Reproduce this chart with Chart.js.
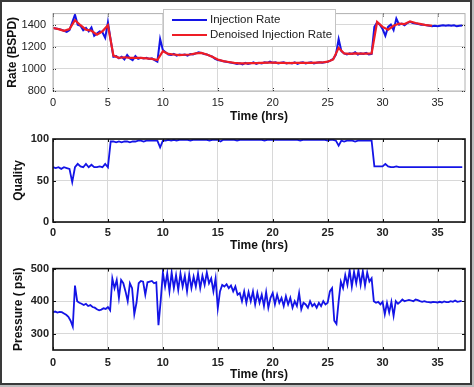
<!DOCTYPE html>
<html>
<head>
<meta charset="utf-8">
<script src="https://cdn.jsdelivr.net/npm/chart.js"></script>
<style>
    html, body { margin: 0; padding: 0; }
    body { width: 474px; height: 387px; background: #bdbdbd; position: relative; overflow: hidden; }
    .frame { position: absolute; left: 0; top: 0; width: 468px; height: 381px; background: #fff; border: 2px solid #3a3a3a; }
    canvas { position: absolute; left: 0; }
</style>
</head>
<body>
<div class="frame"></div>
<canvas id="rate-chart" width="474" height="128" style="top:0"></canvas>
<canvas id="quality-chart" width="474" height="128" style="top:128px"></canvas>
<canvas id="pressure-chart" width="474" height="129" style="top:258px"></canvas>
<script>
    // tick labels
    var timeTicks = [0, 5, 10, 15, 20, 25, 30, 35];
    var rateTicks = [800, 1000, 1200, 1400];
    var qualityTicks = [0, 50, 100];
    var pressureTicks = [300, 400, 500];

    // injection rate (BSPD), one sample every 0.25 h from t = 0
    var rateStep = 0.25;
    var injectionRate = [
        1370, 1365, 1360, 1355,  1345, 1335, 1350, 1420,  1490, 1400, 1390, 1350,
        1370, 1340, 1375, 1300,  1320, 1340, 1330, 1280,  1420, 1260, 1110, 1115,
        1095, 1110, 1085, 1125,  1095, 1080, 1115, 1090,  1100, 1095, 1100, 1090,
        1095, 1080, 1065, 1270,  1170, 1150, 1130, 1125,  1135, 1120, 1130, 1125,
        1130, 1120, 1135, 1130,  1140, 1150, 1145, 1135,  1130, 1120, 1110, 1090,
        1080, 1075, 1070, 1065,  1060, 1055, 1050, 1045,  1050, 1040, 1055, 1045,
        1050, 1060, 1045, 1055,  1050, 1060, 1055, 1065,  1055, 1060, 1050, 1055,
        1060, 1050, 1055, 1050,  1060, 1045, 1055, 1060,  1050, 1055, 1060, 1050,
        1055, 1060, 1055, 1060,  1065, 1075, 1090, 1130,  1270, 1160, 1140, 1130,
        1140, 1135, 1150, 1130,  1140, 1135, 1145, 1130,  1135, 1380, 1420, 1400,
        1360, 1300, 1380, 1400,  1350, 1455, 1400, 1410,  1395, 1415, 1425, 1415,
        1410, 1405, 1400, 1400,  1395, 1390, 1385, 1390,  1385, 1390, 1395, 1390,
        1395, 1390, 1395, 1385,  1390, 1392
    ];

    // denoised injection rate (BSPD), one sample every 0.5 h from t = 0
    var denoisedStep = 0.5;
    var denoisedRate = [
        1370, 1360,  1345, 1360,  1440, 1395,  1355, 1345,  1310, 1340,
        1395, 1120,  1100, 1105,  1100, 1100,  1100, 1095,  1090, 1080,
        1160, 1135,  1130, 1125,  1128, 1130,  1140, 1145,  1130, 1110,
        1085, 1070,  1062, 1055,  1050, 1050,  1052, 1052,  1055, 1057,
        1057, 1055,  1055, 1053,  1055, 1055,  1055, 1055,  1057, 1058,
        1065, 1085,  1190, 1140,  1135, 1140,  1138, 1138,  1140, 1425,
        1380, 1355,  1390, 1410,  1405, 1430,  1415, 1405,  1395, 1390
    ];

    // steam quality, one sample every 0.25 h from t = 0
    var qualityStep = 0.25;
    var quality = [
        66, 65, 66, 64,  66, 65, 64, 48,  66, 70, 67, 66,  70, 66, 69, 66,
        66, 67, 66, 70,  66, 97, 97, 96,  97, 96, 97, 97,  96, 97, 97, 98,
        98, 97, 98, 98,  98, 98, 98, 90,  98, 98, 99, 98,  99, 98, 99, 99,
        99, 99, 98, 99,  99, 99, 99, 99,  99, 98, 99, 99,  99, 97, 99, 99,
        99, 99, 99, 98,  99, 99, 99, 99,  99, 99, 99, 99,  99, 98, 99, 99,
        99, 99, 99, 99,  99, 99, 99, 99,  99, 99, 98, 99,  99, 99, 99, 99,
        99, 99, 99, 99,  98, 99, 99, 98,  92, 98, 97, 98,  98, 98, 97, 98,
        98, 98, 98, 98,  98, 67, 67, 67,  67, 70, 67, 66,  66, 67, 66, 66,
        66, 66, 66, 66,  66, 66, 66, 66,  66, 66, 66, 66,  66, 66, 66, 66,
        66, 66, 66, 66,  66, 66
    ];

    // pressure (psi), one sample every 0.2 h from t = 0
    var pressureStep = 0.2;
    var pressure = [
        366, 368, 365, 367, 366,  362, 358, 352, 340, 322,  448, 400, 395, 392, 388,
        392, 385, 388, 382, 380,  375, 372, 374, 378, 376,  382, 372, 470, 440, 465,
        410, 465, 455, 430, 400,  455, 440, 360, 395, 455,  462, 460, 420, 458, 460,
        462, 455, 458, 326, 400,  488, 445, 485, 430, 488,  440, 480, 435, 485, 445,
        478, 430, 482, 440, 475,  445, 485, 440, 478, 450,  488, 455, 470, 430, 470,
        378, 430, 450, 445, 452,  440, 448, 430, 445, 420,  425, 400, 430, 395, 428,
        400, 430, 390, 425, 395,  420, 385, 428, 380, 410,  425, 390, 420, 395, 410,
        385, 415, 390, 410, 380,  400, 385, 425, 375, 395,  390, 380, 400, 385, 392,
        380, 395, 385, 400, 390,  395, 430, 440, 340, 330,  400, 460, 440, 480, 450,
        495, 445, 490, 455, 495,  450, 492, 448, 488, 460,  470, 400, 395, 398, 390,
        398, 360, 395, 365, 398,  355, 400, 392, 398, 405,  400, 402, 404, 402, 400,
        405, 403, 400, 398, 400,  398, 397, 396, 398, 397,  396, 398, 396, 399, 397,
        397, 400, 398, 402, 398,  399, 401
    ];

    var blue = "#1414e6";
    var red = "#ee1d25";

    Chart.defaults.font.family = '"Liberation Sans", Arial, sans-serif';
    Chart.defaults.animation = false;

    function points(values, step) {
        return values.map(function(v, i) { return { x: i * step, y: v }; });
    }

    // MATLAB-like axes box with inward tick marks
    var axesBox = {
        id: "axesBox",
        afterDatasetsDraw: function(chart, args, o) {
            var a = chart.chartArea, ctx = chart.ctx;
            var xs = chart.scales.x, ys = chart.scales.y;
            ctx.save();
            ctx.strokeStyle = o.color;
            ctx.lineWidth = o.width;
            ctx.strokeRect(a.left, a.top, a.right - a.left, a.bottom - a.top);
            ctx.strokeStyle = o.tickColor;
            ctx.lineWidth = 1;
            if (o.dash) ctx.setLineDash(o.dash);
            ctx.beginPath();
            xs.ticks.forEach(function(t) {
                var px = Math.round(xs.getPixelForValue(t.value)) + 0.5;
                ctx.moveTo(px, a.top); ctx.lineTo(px, a.top + o.len);
                ctx.moveTo(px, a.bottom); ctx.lineTo(px, a.bottom - o.len);
            });
            ys.ticks.forEach(function(t) {
                var py = Math.round(ys.getPixelForValue(t.value)) + 0.5;
                ctx.moveTo(a.left, py); ctx.lineTo(a.left + o.len, py);
                ctx.moveTo(a.right, py); ctx.lineTo(a.right - o.len, py);
            });
            ctx.stroke();
            ctx.restore();
        }
    };

    // legend box drawn inside the plot area
    var boxLegend = {
        id: "boxLegend",
        afterDraw: function(chart, args, o) {
            if (!o.display) return;
            var ctx = chart.ctx;
            ctx.save();
            ctx.fillStyle = "#fff";
            ctx.fillRect(o.left, o.top, o.width, o.height);
            ctx.strokeStyle = "#c4c4c4";
            ctx.lineWidth = 1;
            ctx.strokeRect(o.left + 0.5, o.top + 0.5, o.width, o.height);
            ctx.font = o.font;
            ctx.textBaseline = "middle";
            chart.data.datasets.forEach(function(ds, row) {
                var y = o.top + o.firstRow + row * o.rowGap;
                ctx.strokeStyle = ds.borderColor;
                ctx.lineWidth = 2;
                ctx.beginPath();
                ctx.moveTo(o.left + 9, y);
                ctx.lineTo(o.left + 44, y);
                ctx.stroke();
                ctx.fillStyle = "#222";
                ctx.fillText(ds.label, o.left + 47, y);
            });
            ctx.restore();
        }
    };

    function makePlot(id, cfg) {
        var tickFont = { size: 11, weight: cfg.boldTicks ? "bold" : "normal" };
        return new Chart(document.getElementById(id).getContext("2d"), {
            type: "line",
            data: { datasets: cfg.datasets },
            plugins: [axesBox, boxLegend],
            options: {
                responsive: false,
                layout: { padding: { top: cfg.top, right: 9, left: 0, bottom: 0 } },
                elements: { point: { radius: 0 }, line: { tension: 0 } },
                plugins: {
                    legend: { display: false },
                    tooltip: { enabled: false },
                    axesBox: cfg.box,
                    boxLegend: cfg.legend || { display: false }
                },
                scales: {
                    x: {
                        type: "linear",
                        min: 0,
                        max: 37.5,
                        afterBuildTicks: function(s) { s.ticks = timeTicks.map(function(v) { return { value: v }; }); },
                        afterFit: function(s) { s.height = cfg.xHeight; },
                        border: { display: false },
                        grid: { color: "#d8d8d8", drawTicks: false },
                        ticks: {
                            font: tickFont, color: "#222", padding: cfg.xPad, maxRotation: 0, autoSkip: false,
                            callback: function(value) { return String(value); }
                        },
                        title: {
                            display: true,
                            text: "Time (hrs)",
                            color: "#111",
                            font: { size: 12, weight: "bold" },
                            padding: { top: 0, bottom: cfg.xTitlePad }
                        }
                    },
                    y: {
                        min: cfg.yMin,
                        max: cfg.yMax,
                        afterBuildTicks: function(s) { s.ticks = cfg.yTicks.map(function(v) { return { value: v }; }); },
                        afterFit: function(s) { s.width = 53; },
                        border: { display: false },
                        grid: { color: "#d8d8d8", drawTicks: false },
                        ticks: {
                            font: tickFont, color: "#222", padding: cfg.yPad, autoSkip: false,
                            callback: function(value) { return String(value); }
                        },
                        title: {
                            display: true,
                            text: cfg.yTitle,
                            color: "#111",
                            font: { size: 12, weight: "bold" },
                            padding: { top: cfg.yTitlePad, bottom: 0 }
                        }
                    }
                }
            }
        });
    }

    makePlot("rate-chart", {
        top: 9, xHeight: 37, xPad: 5, xTitlePad: 4,
        yMin: 800, yMax: 1500, yTicks: rateTicks, yPad: 7, yTitlePad: 5,
        yTitle: "Rate (BSPD)", boldTicks: false,
        box: { color: "#b0b0b0", width: 1, tickColor: "#333", len: 3, dash: [1, 1] },
        legend: { display: true, left: 163, top: 9, width: 172, height: 37, firstRow: 11, rowGap: 15, font: "11.5px 'Liberation Sans', Arial, sans-serif" },
        datasets: [
            { label: "Injection Rate", data: points(injectionRate, rateStep), borderColor: blue, borderWidth: 2, order: 2 },
            { label: "Denoised Injection Rate", data: points(denoisedRate, denoisedStep), borderColor: red, borderWidth: 2.2, order: 1 }
        ]
    });

    makePlot("quality-chart", {
        top: 11, xHeight: 34, xPad: 4, xTitlePad: 3,
        yMin: 0, yMax: 100, yTicks: qualityTicks, yPad: 4, yTitlePad: 11,
        yTitle: "Quality", boldTicks: true,
        box: { color: "#111", width: 1.6, tickColor: "#111", len: 3 },
        datasets: [
            { label: "Quality", data: points(quality, qualityStep), borderColor: blue, borderWidth: 1.8 }
        ]
    });

    makePlot("pressure-chart", {
        top: 10, xHeight: 37, xPad: 6, xTitlePad: 5,
        yMin: 250, yMax: 500, yTicks: pressureTicks, yPad: 4, yTitlePad: 11,
        yTitle: "Pressure ( psi)", boldTicks: true,
        box: { color: "#111", width: 1.6, tickColor: "#111", len: 3 },
        datasets: [
            { label: "Pressure", data: points(pressure, pressureStep), borderColor: blue, borderWidth: 1.8 }
        ]
    });
</script>
</body>
</html>
